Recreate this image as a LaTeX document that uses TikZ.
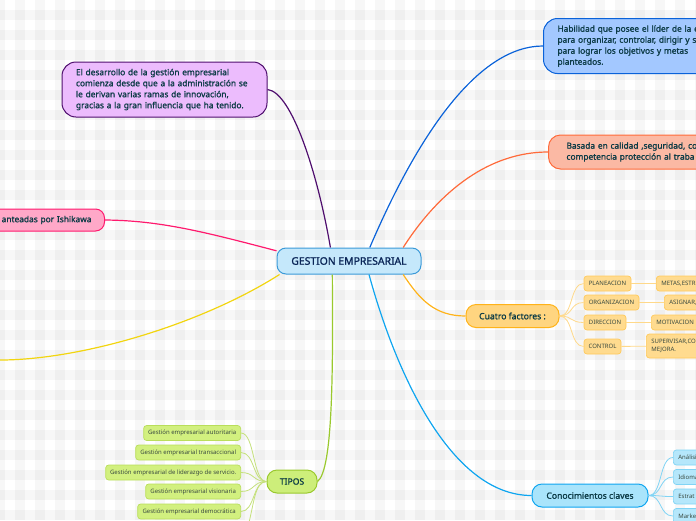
\documentclass[tikz,border=0pt]{standalone}
\usepackage{fontspec}
\setmainfont{Noto Sans}
\newfontfamily\heavyfont{Noto Sans}[FakeBold=1.3]
\usepackage{xcolor}
\usetikzlibrary{positioning,calc}
\definecolor{inkTeal}{HTML}{0C3B46}
\definecolor{inkRoot}{HTML}{0A2557}
\definecolor{inkLeaf}{HTML}{3A4A40}
\definecolor{rootFill}{HTML}{C5E8FB}
\definecolor{rootLine}{HTML}{3B9AD8}
\definecolor{purpleFill}{HTML}{ECBCFD}
\definecolor{purpleLine}{HTML}{4F0E6E}
\definecolor{pinkFill}{HTML}{FFA8C8}
\definecolor{pinkLine}{HTML}{FF1A6E}
\definecolor{blueFill}{HTML}{A3C8FF}
\definecolor{blueLine}{HTML}{0A62D9}
\definecolor{salmonFill}{HTML}{FBB9A4}
\definecolor{salmonLine}{HTML}{FF6A3A}
\definecolor{orangeFill}{HTML}{FFD580}
\definecolor{orangeLine}{HTML}{FFB319}
\definecolor{orangeLeaf}{HTML}{FFDB8F}
\definecolor{orangeEdge}{HTML}{FFD98A}
\definecolor{skyFill}{HTML}{A9E4FB}
\definecolor{skyLine}{HTML}{0EA5F0}
\definecolor{skyLeaf}{HTML}{B5E7FB}
\definecolor{skyEdge}{HTML}{80D4F5}
\definecolor{greenFill}{HTML}{CDEE7A}
\definecolor{greenLine}{HTML}{9AC92E}
\definecolor{greenLeaf}{HTML}{D2F07F}
\definecolor{greenEdge}{HTML}{C5E07C}
\definecolor{yellowLine}{HTML}{F2D50F}
\tikzset{
  rootbox/.style={draw=rootLine,fill=rootFill,line width=1pt,rounded corners=9pt,minimum width=144pt,minimum height=26pt,inner sep=0pt,text=inkRoot,font=\heavyfont\fontsize{10.4}{12}\selectfont},
  topicbox/.style={line width=1pt,rounded corners=14pt,inner ysep=0pt,align=left,text=inkTeal,font=\heavyfont\fontsize{8.35}{11}\selectfont},
  subtopic/.style={line width=1pt,rounded corners=10pt,inner sep=0pt,minimum height=23pt,text=inkTeal,font=\heavyfont\fontsize{8.6}{10}\selectfont},
  leaf/.style={rounded corners=3pt,line width=.7pt,inner sep=0pt,minimum height=15pt,text=inkLeaf,font=\fontsize{6}{8}\selectfont},
  orangeleaf/.style={leaf,draw=orangeLine!45!orangeLeaf,fill=orangeLeaf},
  greenleaf/.style={leaf,draw=greenLine!45!greenLeaf,fill=greenLeaf},
  skyleaf/.style={leaf,draw=skyEdge,fill=skyLeaf},
  branch/.style={line width=1.2pt},
  twig/.style={line width=.8pt}
}
\begin{document}
\begin{tikzpicture}[x=1pt,y=-1pt]
\useasboundingbox (0,0) rectangle (696,520);
\clip (0,0) rectangle (696,520);
\foreach \xs in {-5,15,...,695} \fill[black,opacity=.03] (\xs,0) rectangle ++(10,520);
\foreach \ys in {10,30,...,510} \fill[black,opacity=.03] (0,\ys) rectangle ++(696,10);

\node[rootbox] (root) at (349,261) {GESTION EMPRESARIAL};
\node[topicbox,draw=purpleLine,fill=purpleFill,anchor=north west,inner xsep=14pt,minimum height=55pt,text width=177pt] (origen) at (61.5,61.5) {El desarrollo de la gestión empresarial\\comienza desde que a la administración se\\le derivan varias ramas de innovación,\\gracias a la gran influencia que ha tenido.};
\node[topicbox,draw=pinkLine,fill=pinkFill,anchor=east,rounded corners=9pt,inner xsep=13pt,minimum height=22pt,text width=150pt,align=right] (ishikawa) at (105,220) {anteadas por Ishikawa};
\node[topicbox,draw=blueLine,fill=blueFill,anchor=west,inner xsep=14pt,minimum height=55pt,text width=220pt] (habilidad) at (543,46) {Habilidad que posee el líder de la em\\para organizar, controlar, dirigir y s\\para lograr los objetivos y metas\\planteados.};
\node[topicbox,draw=salmonLine,fill=salmonFill,anchor=west,rounded corners=12pt,inner xsep=18pt,minimum height=34pt,text width=220pt] (calidad) at (548,152) {Basada en calidad ,seguridad, co\\competencia protección al traba};
\node[subtopic,draw=orangeLine,fill=orangeFill,minimum width=93pt] (factores) at (512.5,316) {Cuatro factores :};
\node[subtopic,draw=skyLine,fill=skyFill,minimum width=116pt] (claves) at (590,495.5) {Conocimientos  claves};
\node[subtopic,draw=greenLine,fill=greenFill,minimum width=50pt] (tipos) at (292,481.5) {TIPOS};
\coordinate (lejos) at (0,360);

\node[orangeleaf,minimum width=47pt] (planeacion) at (607.5,283.5) {PLANEACION};
\node[orangeleaf,minimum width=55pt] (organizacion) at (611.5,302.5) {ORGANIZACION};
\node[orangeleaf,minimum width=42pt] (direccion) at (605,322.5) {DIRECCION};
\node[orangeleaf,minimum width=37pt] (control) at (602.5,346.5) {CONTROL};
\node[orangeleaf,anchor=west,inner xsep=5pt,text width=80pt,align=left] (metas) at (656,283.5) {METAS,ESTR};
\node[orangeleaf,anchor=west,inner xsep=5pt,text width=80pt,align=left] (asignar) at (664,302.5) {ASIGNAR,};
\node[orangeleaf,anchor=west,inner xsep=5pt,text width=80pt,align=left] (motivacion) at (651,322.5) {MOTIVACION};
\node[orangeleaf,anchor=west,inner xsep=5pt,minimum height=24pt,text width=80pt,align=left] (supervisar) at (646,346) {SUPERVISAR,CO\\MEJORA.};

\node[skyleaf,anchor=west,inner xsep=5pt,text width=60pt,align=left] (analisis) at (673,457.5) {Análisi};
\node[skyleaf,anchor=west,inner xsep=5pt,text width=60pt,align=left] (idiomas) at (673,477) {Idioma};
\node[skyleaf,anchor=west,inner xsep=5pt,text width=60pt,align=left] (estrategia) at (673,496.5) {Estrat};
\node[skyleaf,anchor=west,inner xsep=5pt,text width=60pt,align=left] (marketing) at (673,516) {Marke};

\node[greenleaf,anchor=east,minimum width=97pt] (autoritaria) at (241,433) {Gestión empresarial autoritaria};
\node[greenleaf,anchor=east,minimum width=105pt] (transaccional) at (241,452.5) {Gestión empresarial transaccional};
\node[greenleaf,anchor=east,minimum width=135pt] (liderazgo) at (241,472.5) {Gestión empresarial de liderazgo de servicio.};
\node[greenleaf,anchor=east,minimum width=95pt] (visionaria) at (241,491.5) {Gestión empresarial visionaria};
\node[greenleaf,anchor=east,minimum width=103pt] (democratica) at (241,511.5) {Gestión empresarial democrática};
\coordinate (abajo) at (248,526);

\draw[branch,purpleLine] (root.144) .. controls (318,175) and (292,92) .. (origen.east);
\draw[branch,pinkLine] (root.172) .. controls (205,232) and (160,220.5) .. (ishikawa.east);
\draw[branch,yellowLine] (root.191) .. controls (200,325) and (80,360) .. (lejos);
\draw[branch,blueLine] (root.33) .. controls (420,130) and (480,46) .. (habilidad.west);
\draw[branch,salmonLine] (root.14) .. controls (440,190) and (490,152) .. (calidad.west);
\draw[branch,orangeLine] (root.-14) .. controls (420,300) and (435,316) .. (factores.west);
\draw[branch,skyLine] (root.-34) .. controls (395,370) and (450,495.5) .. (claves.west);
\draw[branch,greenLine] (root.219) .. controls (333,370) and (333,470) .. (tipos.east);

\foreach \kid in {planeacion,organizacion,direccion,control} \draw[twig,orangeEdge] (factores.east) .. controls +(14,0) and ($(\kid.west)+(-14,0)$) .. (\kid.west);
\draw[twig,orangeEdge] (planeacion) -- (metas); \draw[twig,orangeEdge] (organizacion) -- (asignar); \draw[twig,orangeEdge] (direccion) -- (motivacion); \draw[twig,orangeEdge] (control) -- (supervisar);
\foreach \kid in {analisis,idiomas,estrategia,marketing} \draw[twig,skyEdge] (claves.east) .. controls +(14,0) and ($(\kid.west)+(-14,0)$) .. (\kid.west);
\foreach \kid in {autoritaria,transaccional,liderazgo,visionaria,democratica} \draw[twig,greenEdge] (tipos.west) .. controls +(-14,0) and ($(\kid.east)+(14,0)$) .. (\kid.east);
\draw[twig,greenEdge] (tipos.west) .. controls +(-12,0) and (254,505) .. (abajo);
\end{tikzpicture}
\end{document}
